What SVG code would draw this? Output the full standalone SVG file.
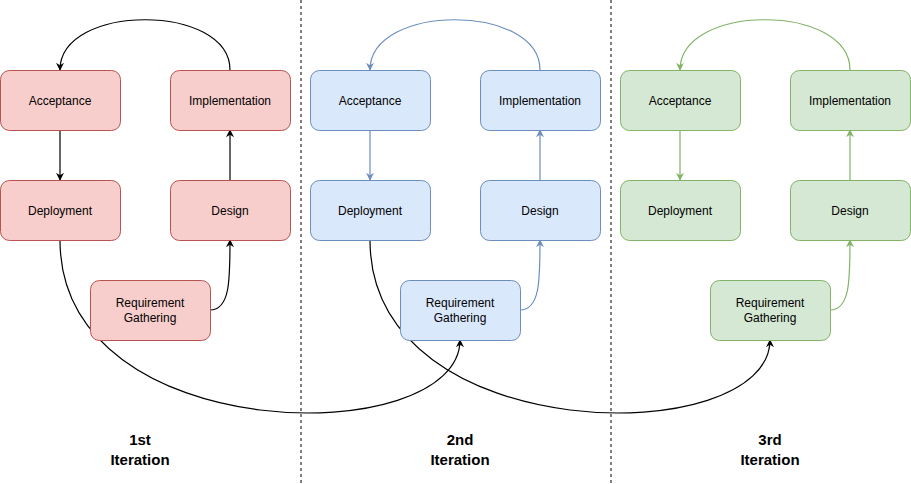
<svg xmlns="http://www.w3.org/2000/svg" width="911" height="484" viewBox="0 0 911 484">
<style>
text{font-family:"Liberation Sans",Arial,sans-serif;font-size:12px;text-anchor:middle;fill:#000}
.lbl{font-size:15px;font-weight:bold}
.r rect{fill:#f8cecc;stroke:#b85450}
.b rect{fill:#dae8fc;stroke:#6c8ebf}
.g rect{fill:#d5e8d4;stroke:#82b366}
path{fill:none;stroke-width:1.2}
.kr{stroke:#000;marker-end:url(#ak)}
.kb{stroke:#6c8ebf;marker-end:url(#ab)}
.kg{stroke:#82b366;marker-end:url(#ag)}
</style>
<defs>
<marker id="ak" viewBox="0 0 10 10" refX="9" refY="5" markerWidth="8" markerHeight="8" markerUnits="userSpaceOnUse" orient="auto"><path d="M0,0 L10,5 L0,10 L3,5 Z" style="fill:#000;stroke:none"/></marker>
<marker id="ab" viewBox="0 0 10 10" refX="9" refY="5" markerWidth="8" markerHeight="8" markerUnits="userSpaceOnUse" orient="auto"><path d="M0,0 L10,5 L0,10 L3,5 Z" style="fill:#6c8ebf;stroke:none"/></marker>
<marker id="ag" viewBox="0 0 10 10" refX="9" refY="5" markerWidth="8" markerHeight="8" markerUnits="userSpaceOnUse" orient="auto"><path d="M0,0 L10,5 L0,10 L3,5 Z" style="fill:#82b366;stroke:none"/></marker>
</defs>
<rect width="911" height="484" fill="#fff"/>
<g id="dividers" stroke="#000" stroke-dasharray="3,3">
<line x1="301" y1="0" x2="301" y2="484"/>
<line x1="611" y1="0" x2="611" y2="484"/>
</g>
<g id="connectors">
<path class="kr" d="M230,70 C230,3 60,3 60,70"/>
<path class="kr" d="M60,130 L60,180"/>
<path class="kr" d="M230,180 L230,130"/>
<path class="kr" d="M210,310 C230,310 230,280 230,240"/>
<path class="kr" d="M60,240 C60,450 460,450 460,340"/>
<path class="kb" d="M540,70 C540,3 370,3 370,70"/>
<path class="kb" d="M370,130 L370,180"/>
<path class="kb" d="M540,180 L540,130"/>
<path class="kb" d="M520,310 C540,310 540,280 540,240"/>
<path class="kr" d="M370,240 C370,450 770,450 770,340"/>
<path class="kg" d="M850,70 C850,3 680,3 680,70"/>
<path class="kg" d="M680,130 L680,180"/>
<path class="kg" d="M850,180 L850,130"/>
<path class="kg" d="M830,310 C850,310 850,280 850,240"/>
</g>
<g id="acc1" class="r"><rect x="0.5" y="70.5" width="120" height="60" rx="9"/><text x="60" y="105">Acceptance</text></g>
<g id="imp1" class="r"><rect x="170.5" y="70.5" width="120" height="60" rx="9"/><text x="230" y="105">Implementation</text></g>
<g id="dep1" class="r"><rect x="0.5" y="180.5" width="120" height="60" rx="9"/><text x="60" y="215">Deployment</text></g>
<g id="des1" class="r"><rect x="170.5" y="180.5" width="120" height="60" rx="9"/><text x="230" y="215">Design</text></g>
<g id="req1" class="r"><rect x="90.5" y="280.5" width="120" height="60" rx="9"/><text x="150" y="307">Requirement</text><text x="150" y="322">Gathering</text></g>
<g id="acc2" class="b"><rect x="310.5" y="70.5" width="120" height="60" rx="9"/><text x="370" y="105">Acceptance</text></g>
<g id="imp2" class="b"><rect x="480.5" y="70.5" width="120" height="60" rx="9"/><text x="540" y="105">Implementation</text></g>
<g id="dep2" class="b"><rect x="310.5" y="180.5" width="120" height="60" rx="9"/><text x="370" y="215">Deployment</text></g>
<g id="des2" class="b"><rect x="480.5" y="180.5" width="120" height="60" rx="9"/><text x="540" y="215">Design</text></g>
<g id="req2" class="b"><rect x="400.5" y="280.5" width="120" height="60" rx="9"/><text x="460" y="307">Requirement</text><text x="460" y="322">Gathering</text></g>
<g id="acc3" class="g"><rect x="620.5" y="70.5" width="120" height="60" rx="9"/><text x="680" y="105">Acceptance</text></g>
<g id="imp3" class="g"><rect x="790.5" y="70.5" width="120" height="60" rx="9"/><text x="850" y="105">Implementation</text></g>
<g id="dep3" class="g"><rect x="620.5" y="180.5" width="120" height="60" rx="9"/><text x="680" y="215">Deployment</text></g>
<g id="des3" class="g"><rect x="790.5" y="180.5" width="120" height="60" rx="9"/><text x="850" y="215">Design</text></g>
<g id="req3" class="g"><rect x="710.5" y="280.5" width="120" height="60" rx="9"/><text x="770" y="307">Requirement</text><text x="770" y="322">Gathering</text></g>
<g id="labels">
<text class="lbl" x="140" y="445">1st</text><text class="lbl" x="140" y="465">Iteration</text>
<text class="lbl" x="460" y="445">2nd</text><text class="lbl" x="460" y="465">Iteration</text>
<text class="lbl" x="770" y="445">3rd</text><text class="lbl" x="770" y="465">Iteration</text>
</g>
</svg>
